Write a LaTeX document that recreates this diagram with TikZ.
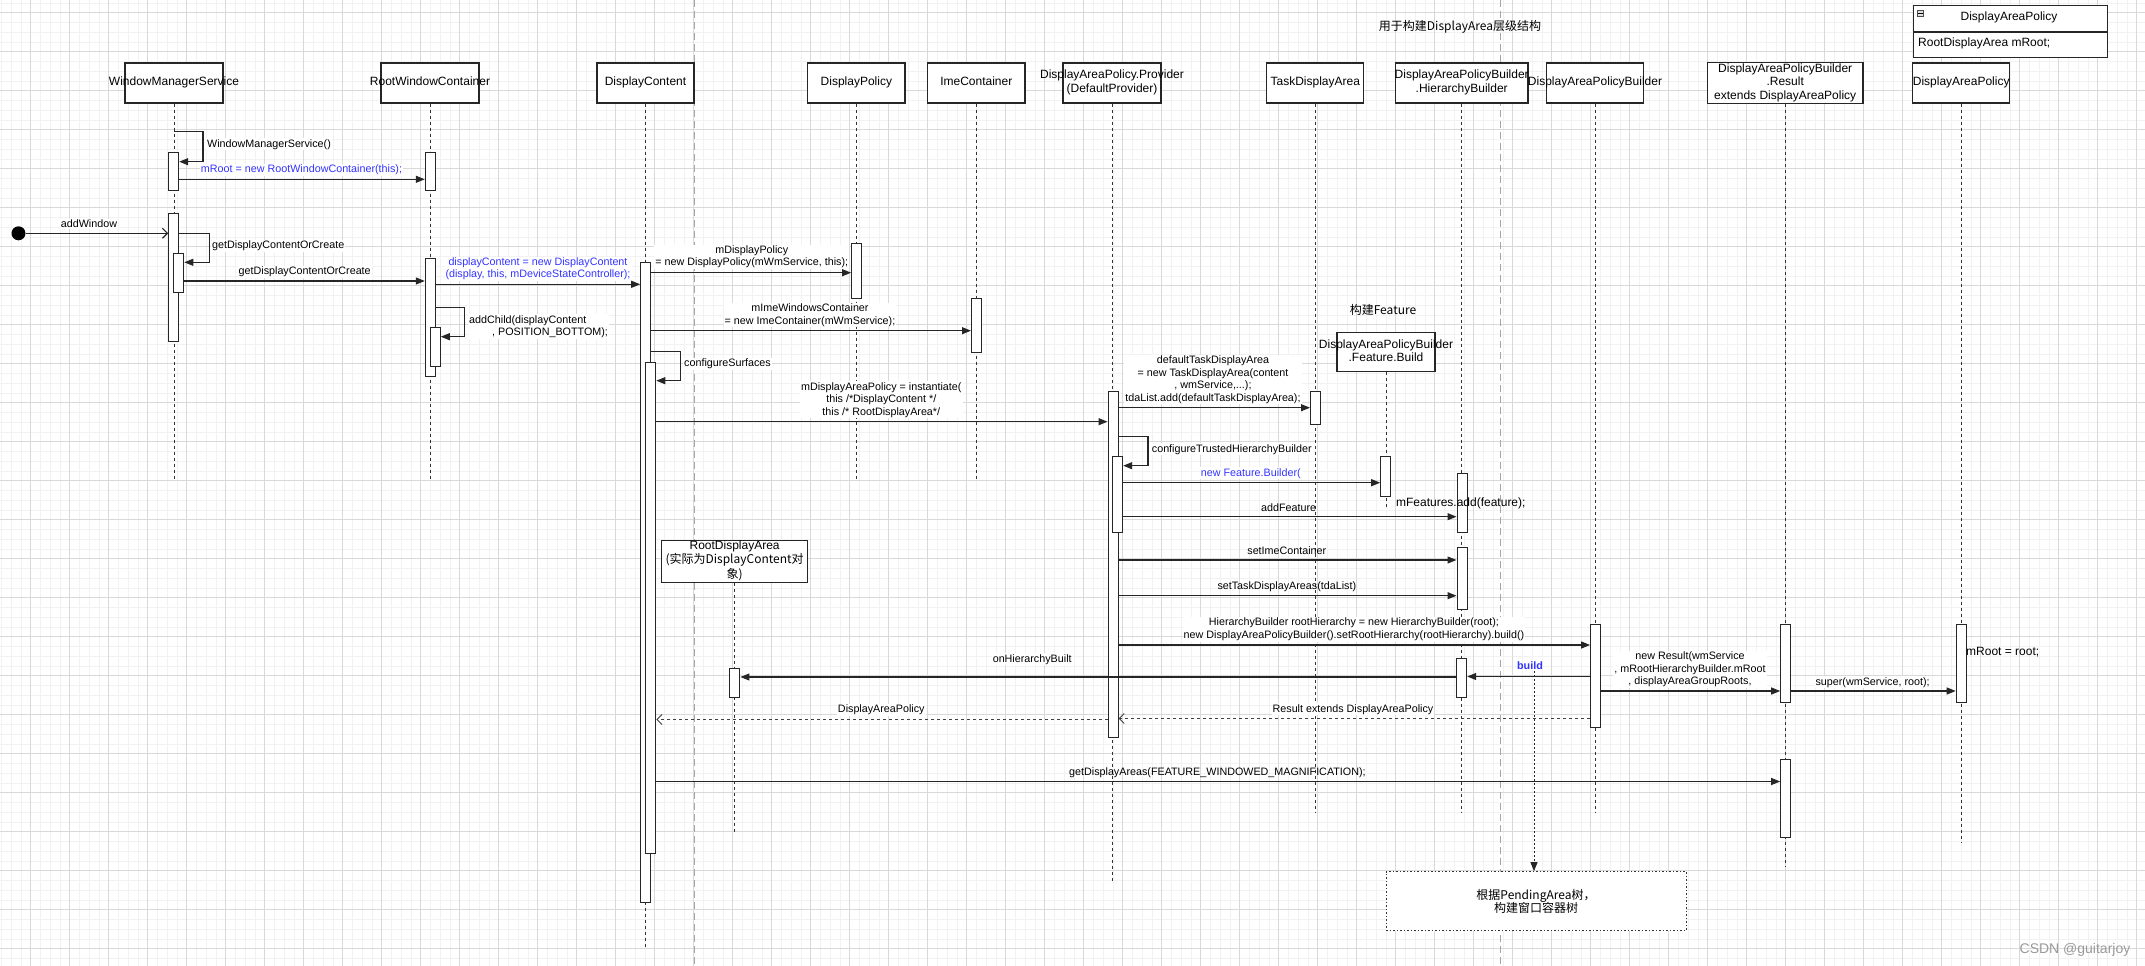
\documentclass[tikz,border=0pt]{standalone}
\usepackage{fontspec}
\setmainfont{Liberation Sans}
\newfontfamily\cjk{Noto Sans CJK SC}
\usetikzlibrary{arrows.meta}
\definecolor{lblblue}{RGB}{51,51,255}
\definecolor{gridminor}{RGB}{242,242,242}
\definecolor{gridmajor}{RGB}{217,217,217}
\newcommand\msgfont{\fontsize{10.75}{12.5}\selectfont}
\newcommand\hdrfont{\fontsize{12}{13.5}\selectfont}
\newcommand\zwbox[1]{\makebox[0pt]{\begin{tabular}{@{}c@{}}#1\end{tabular}}}
\begin{document}
\begin{tikzpicture}[x=1pt,y=-1pt,
  hdr/.style={draw=black!85, line width=1.2pt, fill=white, minimum height=40, inner sep=0pt, font=\hdrfont},
  act/.style={draw=black!85, line width=1pt, fill=white, minimum width=10, inner sep=0pt, anchor=north},
  life/.style={draw=black!80, line width=0.9pt, dash pattern=on 3pt off 3pt},
  vguide/.style={draw=black!35, line width=1pt, dash pattern=on 7pt off 4pt},
  msg/.style={draw=black!85, line width=1.1pt, -{Triangle[length=9pt,width=7pt]}},
  ret/.style={draw=black!75, line width=1pt, dash pattern=on 3pt off 3pt, -{Straight Barb[length=5pt,width=10pt]}},
  found/.style={draw=black!85, line width=1.1pt, -{Straight Barb[length=5pt,width=10pt]}},
  lbl/.style={font=\msgfont, inner sep=1pt, align=center},
  lblw/.style={lbl, fill=white}]
\useasboundingbox (0,0) rectangle (2145,966);
\fill[white] (0,0) rectangle (2145,966);
\begin{scope}
\clip (0,0) rectangle (2145,966);
\foreach \i in {0,...,220} {\draw[gridminor, line width=0.7pt] (1.45+9.75*\i,0) -- (1.45+9.75*\i,966);}
\foreach \i in {0,...,99} {\draw[gridminor, line width=0.7pt] (0,2.95+9.75*\i) -- (2145,2.95+9.75*\i);}
\foreach \i in {0,...,55} {\draw[gridmajor, line width=1pt] (30.7+39*\i,0) -- (30.7+39*\i,966);}
\foreach \i in {0,...,24} {\draw[gridmajor, line width=1pt] (0,12.7+39*\i) -- (2145,12.7+39*\i);}
\end{scope}

% guide lines
\draw[vguide] (694,0) -- (694,966);
\draw[vguide] (1500,0) -- (1500,966);

% headers
\node[hdr, minimum width=98] (wms) at (174,83) {\zwbox{WindowManagerService}};
\node[hdr, minimum width=98] (rwc) at (430,83) {\zwbox{RootWindowContainer}};
\node[hdr, minimum width=97] (dc) at (645.5,83) {\zwbox{DisplayContent}};
\node[hdr, minimum width=97.3] (dp) at (856.4,83) {\zwbox{DisplayPolicy}};
\node[hdr, minimum width=97.5] (ime) at (976.3,83) {\zwbox{ImeContainer}};
\node[hdr, minimum width=98] (dapp) at (1112,83) {\zwbox{DisplayAreaPolicy.Provider\\(DefaultProvider)}};
\node[hdr, minimum width=97] (tda) at (1315.3,83) {\zwbox{TaskDisplayArea}};
\node[hdr, minimum width=132.6] (hb) at (1461.7,83) {\zwbox{DisplayAreaPolicyBuilder\\.HierarchyBuilder}};
\node[hdr, minimum width=97.5] (dapb) at (1595,83) {\zwbox{DisplayAreaPolicyBuilder}};
\node[hdr, minimum width=155.6] (res) at (1785.2,83) {\zwbox{DisplayAreaPolicyBuilder\\.Result\\extends DisplayAreaPolicy}};
\node[hdr, minimum width=97] (dap) at (1961.2,83) {\zwbox{DisplayAreaPolicy}};
\node[hdr, minimum width=98, minimum height=39.2] (fb) at (1386,352.1) {\zwbox{DisplayAreaPolicyBuilder\\.Feature.Build}};
\node[hdr, minimum width=146.4, minimum height=39] (rda) at (734.6,561.2) {\zwbox{RootDisplayArea\\{\cjk (实际为DisplayContent对}\\{\cjk 象)}}};

% lifelines
\draw[life] (wms.south) -- (wms.south |- 0,480);
\draw[life] (rwc.south) -- (rwc.south |- 0,480);
\draw[life] (dc.south) -- (dc.south |- 0,946.7);
\draw[life] (dp.south) -- (dp.south |- 0,480);
\draw[life] (ime.south) -- (ime.south |- 0,480);
\draw[life] (dapp.south) -- (dapp.south |- 0,882.7);
\draw[life] (tda.south) -- (tda.south |- 0,813.3);
\draw[life] (hb.south) -- (hb.south |- 0,813.3);
\draw[life] (dapb.south) -- (dapb.south |- 0,813.3);
\draw[life] (res.south) -- (res.south |- 0,866);
\draw[life] (dap.south) -- (dap.south |- 0,842.3);
\draw[life] (fb.south) -- (fb.south |- 0,508.3);
\draw[life] (rda.south) -- (rda.south |- 0,833.3);

% free texts
\node[font={\cjk\hdrfont}, inner sep=0] (tStruct) at (1460,27) {用于构建DisplayArea层级结构};
\node[font={\cjk\hdrfont}, inner sep=0] (tFeat) at (1383,310) {构建Feature};

% class box
\node[draw=black!85, line width=1.2pt, fill=white, minimum width=194, minimum height=25.7, inner sep=0, anchor=north west] (clsTop) at (1912.7,5) {};
\node[draw=black!85, line width=1.2pt, fill=white, minimum width=194, minimum height=25, inner sep=0, anchor=north west] (clsBot) at (clsTop.south west) {};
\node[font=\hdrfont, inner sep=0] (clsTitle) at (2009,17.5) {DisplayAreaPolicy};
\node[font=\hdrfont, inner sep=0, anchor=west] (clsField) at (1918,43) {RootDisplayArea mRoot;};
\node[draw=black!70, fill=black!12, minimum size=6, inner sep=0, line width=0.6pt] (clsIcon) at (1920.5,13.5) {};
\draw[line width=1.2pt] ([xshift=1.2pt]clsIcon.west) -- ([xshift=-1.2pt]clsIcon.east);

% labels with white background
\node[lblw, anchor=west] (lWMSc) at (206,144.3) {WindowManagerService()};
\node[lblw, text=lblblue] (lmRoot) at (301.5,170) {mRoot = new RootWindowContainer(this);};
\node[lblw] (lAdd) at (89,224) {addWindow};
\node[lblw, anchor=west] (lGet1) at (211,246) {getDisplayContentOrCreate};
\node[lblw] (lGet2) at (304.7,271.7) {getDisplayContentOrCreate};
\node[lblw, text=lblblue] (lDC) at (538,268.8) {displayContent = new DisplayContent\\(display, this, mDeviceStateController);};
\node[lblw] (lDP) at (751.8,256.8) {mDisplayPolicy\\= new DisplayPolicy(mWmService, this);};
\node[lblw, anchor=west, align=left] (lAddChild) at (468,326.6) {addChild(displayContent\\\hspace*{23pt}, POSITION\_BOTTOM);};
\node[lblw] (lIme) at (810,315.2) {mImeWindowsContainer\\= new ImeContainer(mWmService);};
\node[lblw, anchor=west] (lCS) at (683,364) {configureSurfaces};
\node[lblw] (lDAP) at (881.3,399.8) {mDisplayAreaPolicy = instantiate(\\this /*DisplayContent */\\this /* RootDisplayArea*/};
\node[lblw] (lTDA) at (1213,379.5) {defaultTaskDisplayArea\\= new TaskDisplayArea(content\\, wmService,...);\\tdaList.add(defaultTaskDisplayArea);};
\node[lblw, anchor=west] (lCT) at (1150.7,449.3) {configureTrustedHierarchyBuilder};
\node[lblw, text=lblblue] (lFB) at (1250.8,473.3) {new Feature.Builder(};
\node[lblw] (lHB) at (1354,629.3) {HierarchyBuilder rootHierarchy = new HierarchyBuilder(root);\\new DisplayAreaPolicyBuilder().setRootHierarchy(rootHierarchy).build()};
\node[lblw] (lOHB) at (1032.2,659.3) {onHierarchyBuilt};
\node[lblw] (lRes) at (1690,669.6) {new Result(wmService\\, mRootHierarchyBuilder.mRoot\\, displayAreaGroupRoots,};
\node[lblw] (lSup) at (1872.6,682.3) {super(wmService, root);};
\node[lblw] (lRE) at (1353,709.3) {Result extends DisplayAreaPolicy};
\node[lblw] (lDAPr) at (881.3,710) {DisplayAreaPolicy};

% activations
\node[act, minimum height=38.3] (wmsA1) at (173.7,151.7) {};
\node[act, minimum height=38.3] (rwcA1) at (430.3,151.7) {};
\node[act, minimum height=127.4] (wmsA2) at (173.7,213.3) {};
\node[act, minimum height=39] (wmsA3) at (178.8,252.7) {};
\node[act, minimum height=117.4] (rwcA2) at (430.3,258.3) {};
\node[act, minimum height=39] (rwcA3) at (435.3,326.7) {};
\node[act, minimum height=640] (dcA1) at (645.7,262.3) {};
\node[act, minimum height=491] (dcA2) at (650.8,362.3) {};
\node[act, minimum height=55] (dpA) at (856.6,242.7) {};
\node[act, minimum height=54.6] (imeA) at (976.5,297.7) {};
\node[act, minimum height=346] (dappA1) at (1113,390.7) {};
\node[act, minimum height=33.6] (tdaA) at (1315.5,390.7) {};
\node[act, minimum height=76] (dappA2) at (1117.7,455.7) {};
\node[act, minimum height=40] (fbA) at (1385.7,455.7) {};
\node[act, minimum height=58.4] (hbA1) at (1462,473.3) {};
\node[act, minimum height=62.6] (hbA2) at (1462,546.7) {};
\node[act, minimum height=39] (hbA3) at (1461.7,658.3) {};
\node[act, minimum height=29] (rdaA) at (734.9,668.3) {};
\node[act, minimum height=102.7] (dapbA) at (1595.6,624) {};
\node[act, minimum height=78.3] (resA1) at (1785.7,624) {};
\node[act, minimum height=78] (resA2) at (1785.7,758.7) {};
\node[act, minimum height=78.3] (dapA) at (1961.2,624) {};

% labels without background
\node[lbl] (lAF) at (1288.7,507.7) {addFeature};
\node[lbl, font=\hdrfont] (lMF) at (1460.8,503.3) {mFeatures.add(feature);};
\node[lbl] (lSI) at (1286.8,550.3) {setImeContainer};
\node[lbl] (lST) at (1286.8,586.3) {setTaskDisplayAreas(tdaList)};
\node[lbl, text=lblblue, font=\msgfont\bfseries] (lBuild) at (1530,666) {build};
\node[lbl, font=\hdrfont, anchor=west] (lMR) at (1965,651.7) {mRoot = root;};
\node[lbl] (lGDA) at (1217.4,772.3) {getDisplayAreas(FEATURE\_WINDOWED\_MAGNIFICATION);};

% start point
\node[circle, fill=black, minimum size=14, inner sep=0] (start) at (18.5,233.3) {};

% messages
\draw[msg] (wms.south |- 0,131.7) -- ++(29,0) |- (wmsA1.east |- 0,161.7);
\draw[msg] (wmsA1.east |- 0,179.3) -- (rwcA1.west |- 0,179.3);
\draw[found] (start) -- (wmsA2.west |- start);
\draw[msg] (wmsA2.east |- 0,233.3) -- ++(30,0) |- (wmsA3.east |- 0,262.3);
\draw[msg] (wmsA3.east |- 0,281) -- (rwcA2.west |- 0,281);
\draw[msg] (rwcA2.east |- 0,284.3) -- (dcA1.west |- 0,284.3);
\draw[msg] (dcA1.east |- 0,272.7) -- (dpA.west |- 0,272.7);
\draw[msg] (rwcA2.east |- 0,307.3) -- ++(29,0) |- (rwcA3.east |- 0,336.7);
\draw[msg] (dcA1.east |- 0,330.7) -- (imeA.west |- 0,330.7);
\draw[msg] (dcA1.east |- 0,351.3) -- ++(29.5,0) |- (dcA2.east |- 0,380.7);
\draw[msg] (dcA2.east |- 0,421.7) -- (dappA1.west |- 0,421.7);
\draw[msg] (dappA1.east |- 0,407.7) -- (tdaA.west |- 0,407.7);
\draw[msg] (dappA1.east |- 0,436.7) -- ++(29.5,0) |- (dappA2.east |- 0,465.7);
\draw[msg] (dappA2.east |- 0,482.7) -- (fbA.west |- 0,482.7);
\draw[msg] (dappA2.east |- 0,516.7) -- (hbA1.west |- 0,516.7);
\draw[msg] (dappA1.east |- 0,560) -- (hbA2.west |- 0,560);
\draw[msg] (dappA1.east |- 0,595.7) -- (hbA2.west |- 0,595.7);
\draw[msg] (dappA1.east |- 0,645) -- (dapbA.west |- 0,645);
\draw[msg] (dapbA.west |- 0,676.5) -- (hbA3.east |- 0,676.5);
\draw[msg] (hbA3.west |- 0,677) -- (rdaA.east |- 0,677);
\draw[msg] (dapbA.east |- 0,691) -- (resA1.west |- 0,691);
\draw[msg] (resA1.east |- 0,691) -- (dapA.west |- 0,691);
\draw[ret] (dapbA.west |- 0,718.5) -- (dappA1.east |- 0,718.5);
\draw[ret] (dappA1.west |- 0,719.5) -- (dcA2.east |- 0,719.5);
\draw[msg] (dcA2.east |- 0,781.5) -- (resA2.west |- 0,781.5);

% note
\node[draw=black!80, line width=1pt, dash pattern=on 1.5pt off 2pt, fill=white, minimum width=300, minimum height=59.3, align=center, font={\cjk\hdrfont}] (note) at (1536,901.3) {根据PendingArea树，\\构建窗口容器树};
\draw[draw=black!85, line width=1pt, dash pattern=on 1.5pt off 2.5pt, -{Triangle[length=9pt,width=7pt]}] ([xshift=4pt]lBuild.south) -- ([xshift=4pt]lBuild.south |- note.north);

% watermark
\node[font=\fontsize{14}{16}\selectfont, text=black!40, inner sep=0] (wm) at (2075,950) {CSDN @guitarjoy};
\end{tikzpicture}
\end{document}
